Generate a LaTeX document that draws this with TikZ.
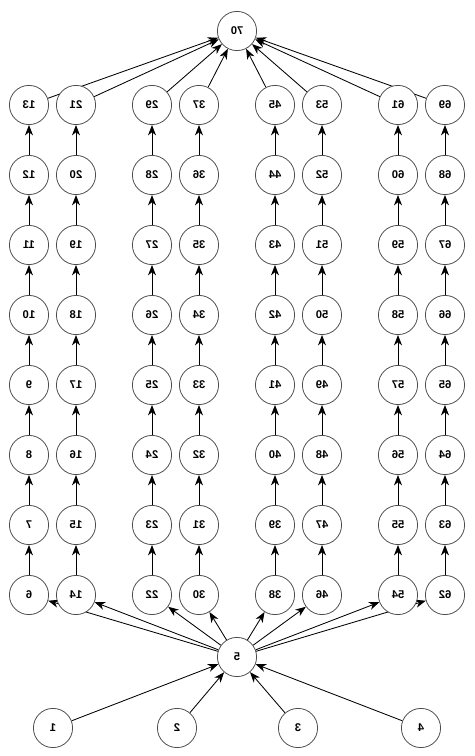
\documentclass[tikz,border=0pt]{standalone}
\usepackage{fontspec}
\setmainfont{Liberation Sans}
\usetikzlibrary{arrows.meta}
\pgfdeclarelayer{nodelayer}
\pgfdeclarelayer{edgelayer}
\pgfsetlayers{edgelayer,nodelayer,main}
\tikzstyle{vertex}=[fill=white, draw=black!70, line width=0.55pt, shape=circle, minimum size=0.98cm, inner sep=0pt, xscale=-1, font=\bfseries\fontsize{8}{9}\selectfont]
\tikzstyle{directed edge}=[-{Stealth[length=0.26cm, width=0.2cm, inset=0.08cm]}, line width=0.6pt]

\begin{document}
\begin{tikzpicture}
	\useasboundingbox (-5.925, -4.025) rectangle (5.925, 14.875);
	\begin{pgfonlayer}{nodelayer}
		\node [style=vertex] (70) at (0, 14.1) {70};
		\node [style=vertex] (6) at (-5.2, 0) {6};
		\node [style=vertex] (7) at (-5.2, 1.75) {7};
		\node [style=vertex] (8) at (-5.2, 3.5) {8};
		\node [style=vertex] (9) at (-5.2, 5.25) {9};
		\node [style=vertex] (10) at (-5.2, 7) {10};
		\node [style=vertex] (11) at (-5.2, 8.75) {11};
		\node [style=vertex] (12) at (-5.2, 10.5) {12};
		\node [style=vertex] (13) at (-5.2, 12.25) {13};
		\node [style=vertex] (14) at (-4.025, 0) {14};
		\node [style=vertex] (15) at (-4.025, 1.75) {15};
		\node [style=vertex] (16) at (-4.025, 3.5) {16};
		\node [style=vertex] (17) at (-4.025, 5.25) {17};
		\node [style=vertex] (18) at (-4.025, 7) {18};
		\node [style=vertex] (19) at (-4.025, 8.75) {19};
		\node [style=vertex] (20) at (-4.025, 10.5) {20};
		\node [style=vertex] (21) at (-4.025, 12.25) {21};
		\node [style=vertex] (22) at (-2.125, 0) {22};
		\node [style=vertex] (23) at (-2.125, 1.75) {23};
		\node [style=vertex] (24) at (-2.125, 3.5) {24};
		\node [style=vertex] (25) at (-2.125, 5.25) {25};
		\node [style=vertex] (26) at (-2.125, 7) {26};
		\node [style=vertex] (27) at (-2.125, 8.75) {27};
		\node [style=vertex] (28) at (-2.125, 10.5) {28};
		\node [style=vertex] (29) at (-2.125, 12.25) {29};
		\node [style=vertex] (30) at (-0.95, 0) {30};
		\node [style=vertex] (31) at (-0.95, 1.75) {31};
		\node [style=vertex] (32) at (-0.95, 3.5) {32};
		\node [style=vertex] (33) at (-0.95, 5.25) {33};
		\node [style=vertex] (34) at (-0.95, 7) {34};
		\node [style=vertex] (35) at (-0.95, 8.75) {35};
		\node [style=vertex] (36) at (-0.95, 10.5) {36};
		\node [style=vertex] (37) at (-0.95, 12.25) {37};
		\node [style=vertex] (38) at (0.95, 0) {38};
		\node [style=vertex] (39) at (0.95, 1.75) {39};
		\node [style=vertex] (40) at (0.95, 3.5) {40};
		\node [style=vertex] (41) at (0.95, 5.25) {41};
		\node [style=vertex] (42) at (0.95, 7) {42};
		\node [style=vertex] (43) at (0.95, 8.75) {43};
		\node [style=vertex] (44) at (0.95, 10.5) {44};
		\node [style=vertex] (45) at (0.95, 12.25) {45};
		\node [style=vertex] (46) at (2.125, 0) {46};
		\node [style=vertex] (47) at (2.125, 1.75) {47};
		\node [style=vertex] (48) at (2.125, 3.5) {48};
		\node [style=vertex] (49) at (2.125, 5.25) {49};
		\node [style=vertex] (50) at (2.125, 7) {50};
		\node [style=vertex] (51) at (2.125, 8.75) {51};
		\node [style=vertex] (52) at (2.125, 10.5) {52};
		\node [style=vertex] (53) at (2.125, 12.25) {53};
		\node [style=vertex] (54) at (4.025, 0) {54};
		\node [style=vertex] (55) at (4.025, 1.75) {55};
		\node [style=vertex] (56) at (4.025, 3.5) {56};
		\node [style=vertex] (57) at (4.025, 5.25) {57};
		\node [style=vertex] (58) at (4.025, 7) {58};
		\node [style=vertex] (59) at (4.025, 8.75) {59};
		\node [style=vertex] (60) at (4.025, 10.5) {60};
		\node [style=vertex] (61) at (4.025, 12.25) {61};
		\node [style=vertex] (62) at (5.2, 0) {62};
		\node [style=vertex] (63) at (5.2, 1.75) {63};
		\node [style=vertex] (64) at (5.2, 3.5) {64};
		\node [style=vertex] (65) at (5.2, 5.25) {65};
		\node [style=vertex] (66) at (5.2, 7) {66};
		\node [style=vertex] (67) at (5.2, 8.75) {67};
		\node [style=vertex] (68) at (5.2, 10.5) {68};
		\node [style=vertex] (69) at (5.2, 12.25) {69};
		\node [style=vertex] (5) at (0, -1.55) {5};
		\node [style=vertex] (1) at (-4.6, -3.325) {1};
		\node [style=vertex] (2) at (-1.5, -3.325) {2};
		\node [style=vertex] (3) at (1.525, -3.325) {3};
		\node [style=vertex] (4) at (4.6, -3.325) {4};
	\end{pgfonlayer}
	\begin{pgfonlayer}{edgelayer}
		\draw [style=directed edge] (1) to (5);
		\draw [style=directed edge] (2) to (5);
		\draw [style=directed edge] (3) to (5);
		\draw [style=directed edge] (4) to (5);
		\draw [style=directed edge] (5) to (6);
		\draw [style=directed edge] (5) to (14);
		\draw [style=directed edge] (5) to (22);
		\draw [style=directed edge] (5) to (30);
		\draw [style=directed edge] (5) to (38);
		\draw [style=directed edge] (5) to (46);
		\draw [style=directed edge] (5) to (54);
		\draw [style=directed edge] (5) to (62);
		\draw [style=directed edge] (6) to (7);
		\draw [style=directed edge] (7) to (8);
		\draw [style=directed edge] (8) to (9);
		\draw [style=directed edge] (9) to (10);
		\draw [style=directed edge] (10) to (11);
		\draw [style=directed edge] (11) to (12);
		\draw [style=directed edge] (12) to (13);
		\draw [style=directed edge] (14) to (15);
		\draw [style=directed edge] (15) to (16);
		\draw [style=directed edge] (16) to (17);
		\draw [style=directed edge] (17) to (18);
		\draw [style=directed edge] (18) to (19);
		\draw [style=directed edge] (19) to (20);
		\draw [style=directed edge] (20) to (21);
		\draw [style=directed edge] (22) to (23);
		\draw [style=directed edge] (23) to (24);
		\draw [style=directed edge] (24) to (25);
		\draw [style=directed edge] (25) to (26);
		\draw [style=directed edge] (26) to (27);
		\draw [style=directed edge] (27) to (28);
		\draw [style=directed edge] (28) to (29);
		\draw [style=directed edge] (30) to (31);
		\draw [style=directed edge] (31) to (32);
		\draw [style=directed edge] (32) to (33);
		\draw [style=directed edge] (33) to (34);
		\draw [style=directed edge] (34) to (35);
		\draw [style=directed edge] (35) to (36);
		\draw [style=directed edge] (36) to (37);
		\draw [style=directed edge] (38) to (39);
		\draw [style=directed edge] (39) to (40);
		\draw [style=directed edge] (40) to (41);
		\draw [style=directed edge] (41) to (42);
		\draw [style=directed edge] (42) to (43);
		\draw [style=directed edge] (43) to (44);
		\draw [style=directed edge] (44) to (45);
		\draw [style=directed edge] (46) to (47);
		\draw [style=directed edge] (47) to (48);
		\draw [style=directed edge] (48) to (49);
		\draw [style=directed edge] (49) to (50);
		\draw [style=directed edge] (50) to (51);
		\draw [style=directed edge] (51) to (52);
		\draw [style=directed edge] (52) to (53);
		\draw [style=directed edge] (54) to (55);
		\draw [style=directed edge] (55) to (56);
		\draw [style=directed edge] (56) to (57);
		\draw [style=directed edge] (57) to (58);
		\draw [style=directed edge] (58) to (59);
		\draw [style=directed edge] (59) to (60);
		\draw [style=directed edge] (60) to (61);
		\draw [style=directed edge] (62) to (63);
		\draw [style=directed edge] (63) to (64);
		\draw [style=directed edge] (64) to (65);
		\draw [style=directed edge] (65) to (66);
		\draw [style=directed edge] (66) to (67);
		\draw [style=directed edge] (67) to (68);
		\draw [style=directed edge] (68) to (69);
		\draw [style=directed edge] (13) to (70);
		\draw [style=directed edge] (21) to (70);
		\draw [style=directed edge] (29) to (70);
		\draw [style=directed edge] (37) to (70);
		\draw [style=directed edge] (45) to (70);
		\draw [style=directed edge] (53) to (70);
		\draw [style=directed edge] (61) to (70);
		\draw [style=directed edge] (69) to (70);
	\end{pgfonlayer}
\end{tikzpicture}
\end{document}
